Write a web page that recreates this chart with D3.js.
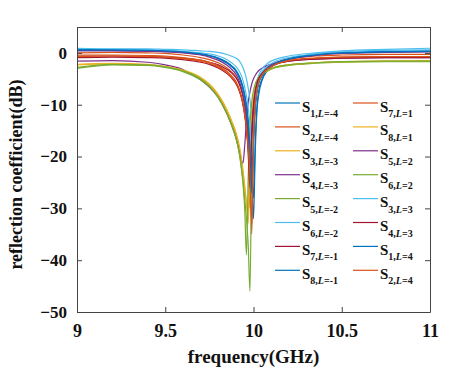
<!DOCTYPE html>
<html>
<head>
<meta charset="utf-8">
<script src="https://cdn.jsdelivr.net/npm/d3@7"></script>
<style>
  body { margin: 0; background: #fff; }
  text { font-family: "Liberation Serif", "Times New Roman", serif; font-weight: bold; }
</style>
</head>
<body>
<svg width="474" height="382"></svg>
<script>
// frequency grid (GHz), denser around the resonance
var freq = [9, 9.2, 9.4, 9.5, 9.6, 9.7, 9.75, 9.8, 9.85, 9.88, 9.9, 9.92, 9.93, 9.94, 9.95, 9.96, 9.97, 9.98, 9.99, 10, 10.01, 10.02, 10.03, 10.05, 10.08, 10.12, 10.2, 10.35, 10.5, 10.75, 11];

// reflection coefficient (dB), one array per curve
var s1m4 = [0.7,0.6,0.5,0.4,0.2,-0.2,-0.5,-1.0,-1.8,-2.6,-3.3,-4.5,-5.4,-6.5,-8,-10,-13,-17,-23,-32,-19,-11,-8,-5.2,-3.4,-2.2,-1.1,-0.3,0.1,0.3,0.4];
var s2m4 = [0,0.1,0,-0.1,-0.4,-0.9,-1.3,-1.9,-2.9,-3.8,-4.6,-6,-7,-8.3,-10,-12.5,-16,-22,-35,-18,-10,-7,-5.5,-4,-2.8,-2,-1.2,-0.6,-0.4,-0.3,-0.3];
var s3m3 = [-2.3,-2.1,-2.3,-2.7,-3.4,-4.9,-6.2,-8.2,-11.2,-13.6,-15.6,-18.4,-20.5,-23,-26,-29,-31,-20,-12,-8.5,-6.5,-5.5,-4.8,-4,-3.3,-2.8,-2.3,-1.9,-1.7,-1.6,-1.6];
var s4m3 = [-1.6,-1.5,-1.8,-2.3,-3.2,-5.2,-6.6,-8.6,-11.8,-14.3,-16.3,-19,-20.5,-21.3,-18,-13,-9.5,-7.5,-6,-5,-4.3,-3.8,-3.4,-2.9,-2.4,-2,-1.6,-1.2,-1,-0.9,-0.9];
var s5m2 = [-3,-2.3,-2.4,-2.8,-3.6,-5.2,-6.5,-8.6,-11.8,-14.3,-16.4,-19.4,-21.6,-24.5,-28,-32,-37,-46,-20,-11,-7.5,-6,-5,-4.2,-3.5,-2.9,-2.4,-2,-1.8,-1.7,-1.7];
var s6m2 = [0.9,0.8,0.8,0.7,0.6,0.4,0.3,0.1,-0.3,-0.7,-1,-1.6,-2.1,-2.8,-3.7,-5,-6.8,-9,-12,-10,-7.5,-5.5,-4.3,-3,-2,-1.3,-0.6,0,0.4,0.7,0.9];
var s7m1 = [-0.6,-0.6,-0.7,-0.8,-1,-1.4,-1.8,-2.3,-3.2,-4,-4.8,-6,-7,-8.2,-9.8,-12,-15,-19,-25,-16,-10,-7,-5.6,-4.2,-3,-2.2,-1.5,-1.1,-0.9,-0.8,-0.8];
var s8m1 = [0.5,0.5,0.4,0.3,0.1,-0.3,-0.6,-1.1,-2,-2.8,-3.5,-4.8,-5.7,-6.9,-8.5,-10.5,-13.5,-17.5,-22,-28,-17,-10,-7.2,-4.9,-3.2,-2.1,-1.1,-0.4,0,0.2,0.3];
var s7p1 = [-0.4,-0.4,-0.5,-0.6,-0.9,-1.4,-1.8,-2.5,-3.6,-4.6,-5.5,-7,-8.1,-9.6,-11.6,-14.5,-19,-30,-18,-11,-7.8,-6,-5,-3.9,-2.9,-2.2,-1.5,-1,-0.8,-0.7,-0.7];
var s8p1 = [-2.2,-2,-2.2,-2.6,-3.3,-4.7,-6,-8,-11,-13.4,-15.3,-18,-20,-22.5,-25.5,-29,-33,-21,-13,-9,-7,-5.8,-5,-4.1,-3.4,-2.8,-2.3,-1.9,-1.7,-1.6,-1.5];
var s5p2 = [0.4,0.4,0.3,0.2,0,-0.4,-0.8,-1.4,-2.4,-3.3,-4.1,-5.5,-6.6,-8,-10,-12.5,-16.5,-24,-15,-10,-7.3,-5.8,-4.8,-3.7,-2.7,-2,-1.2,-0.5,-0.1,0.1,0.2];
var s6p2 = [-2.8,-2.2,-2.3,-2.7,-3.5,-5,-6.4,-8.5,-11.7,-14.2,-16.3,-19.5,-22,-25,-30,-39,-24,-14,-9.5,-7.2,-6,-5.2,-4.6,-3.9,-3.3,-2.8,-2.3,-1.9,-1.7,-1.6,-1.6];
var s3p3 = [0.8,0.7,0.6,0.5,0.3,0,-0.2,-0.6,-1.3,-2,-2.6,-3.6,-4.3,-5.3,-6.6,-8.3,-10.6,-14,-20,-15,-9.5,-6.5,-5,-3.6,-2.5,-1.7,-0.9,-0.2,0.2,0.5,0.6];
var s4p3 = [-0.9,-0.8,-0.9,-1,-1.3,-1.8,-2.2,-2.9,-4,-5,-5.9,-7.4,-8.5,-10,-12,-14.8,-19,-26,-16,-10.5,-7.5,-5.9,-4.9,-3.9,-3,-2.3,-1.6,-1.2,-1,-0.9,-0.9];
var s1p4 = [0.6,0.6,0.5,0.4,0.2,-0.2,-0.5,-1,-1.9,-2.7,-3.4,-4.7,-5.6,-6.8,-8.4,-10.6,-13.8,-18.5,-27,-17,-10.5,-7.5,-5.8,-4.3,-3,-2.1,-1.2,-0.4,0,0.2,0.3];
var s2p4 = [-0.7,-0.6,-0.7,-0.8,-1.1,-1.6,-2,-2.7,-3.8,-4.8,-5.7,-7.2,-8.3,-9.8,-11.8,-14.5,-18.5,-24,-33,-17,-10,-7.2,-5.7,-4.2,-3.1,-2.3,-1.5,-1,-0.8,-0.7,-0.7];

var series = [s1m4, s2m4, s3m3, s4m3, s5m2, s6m2, s7m1, s8m1, s7p1, s8p1, s5p2, s6p2, s3p3, s4p3, s1p4, s2p4];
var subIdx = ["1","2","3","4","5","6","7","8","7","8","5","6","3","4","1","2"];
var subL   = ["-4","-4","-3","-3","-2","-2","-1","-1","1","1","2","2","3","3","4","4"];
var colors = ["#0072BD","#D95319","#EDB120","#7E2F8E","#77AC30","#4DBEEE","#A2142F"];

var xTicks = [9, 9.5, 10, 10.5, 11];
var yTicks = [0, -10, -20, -30, -40, -50];

var plotL = 77, plotR = 430, plotT = 27, plotB = 312;

var svg = d3.select("svg");

var x = d3.scaleLinear().domain([9, 11]).range([plotL, plotR]);
var y = d3.scaleLinear().domain([-50, 5]).range([plotB, plotT]);

// curves
var line = d3.line()
  .x(function(d) { return x(d[0]); })
  .y(function(d) { return y(d[1]); })
  .curve(d3.curveMonotoneX);

svg.append("g").selectAll("path")
  .data(series)
  .enter()
  .append("path")
  .attr("d", function(s) {
    return line(s.map(function(v, i) { return [freq[i], v]; }));
  })
  .attr("fill", "none")
  .attr("stroke", function(d, i) { return colors[i % 7]; })
  .attr("stroke-width", 1.2);

// axes (box with inward ticks)
function styleAxis(g) {
  g.select(".domain").attr("stroke", "#444");
  g.selectAll(".tick line").attr("stroke", "#444");
  g.selectAll(".tick text")
    .attr("fill", "#111")
    .style("font-family", "'Liberation Serif', serif")
    .style("font-weight", "bold");
}

svg.append("g")
  .attr("transform", "translate(0," + plotB + ")")
  .call(d3.axisBottom(x).tickValues(xTicks).tickFormat(d3.format("")).tickSizeInner(-5).tickSizeOuter(0).tickPadding(12))
  .call(styleAxis)
  .selectAll(".tick text").style("font-size", "18px");

svg.append("g")
  .attr("transform", "translate(0," + plotT + ")")
  .call(d3.axisTop(x).tickValues(xTicks).tickFormat("").tickSizeInner(-5).tickSizeOuter(0))
  .call(styleAxis);

svg.append("g")
  .attr("transform", "translate(" + plotL + ",0)")
  .call(d3.axisLeft(y).tickValues(yTicks).tickFormat(d3.format("")).tickSizeInner(-5).tickSizeOuter(0).tickPadding(10))
  .call(styleAxis)
  .selectAll(".tick text").style("font-size", "17px");

svg.append("g")
  .attr("transform", "translate(" + plotR + ",0)")
  .call(d3.axisRight(y).tickValues(yTicks).tickFormat("").tickSizeInner(-5).tickSizeOuter(0))
  .call(styleAxis);

// axis titles
svg.append("text")
  .attr("x", (plotL + plotR) / 2)
  .attr("y", 363)
  .attr("text-anchor", "middle")
  .style("font-size", "19px")
  .attr("fill", "#111")
  .text("frequency(GHz)");

svg.append("text")
  .attr("transform", "translate(22," + ((plotT + plotB) / 2 + 5) + ") rotate(-90)")
  .attr("text-anchor", "middle")
  .style("font-size", "18px")
  .attr("fill", "#111")
  .text("reflection coefficient(dB)");

// legend: two columns of eight
var leg = svg.append("g");
var items = leg.selectAll("g")
  .data(series)
  .enter()
  .append("g")
  .attr("transform", function(d, i) {
    var col = Math.floor(i / 8), row = i % 8;
    return "translate(" + (275 + col * 78) + "," + (103 + row * 23.9) + ")";
  });

items.append("line")
  .attr("x1", 0).attr("x2", 25)
  .attr("y1", 0).attr("y2", 0)
  .attr("stroke", function(d, i) { return colors[i % 7]; })
  .attr("stroke-width", 1.2);

var lbl = items.append("text")
  .attr("x", 27)
  .attr("y", 8.5)
  .attr("fill", "#111");
lbl.append("tspan").style("font-size", "15px").text("S");
lbl.append("tspan").attr("dy", 5.5).style("font-size", "10px")
  .text(function(d, i) { return subIdx[i] + ","; });
lbl.append("tspan").style("font-size", "10px").style("font-style", "italic").text("L");
lbl.append("tspan").style("font-size", "10px")
  .text(function(d, i) { return "=" + subL[i]; });
</script>
</body>
</html>
